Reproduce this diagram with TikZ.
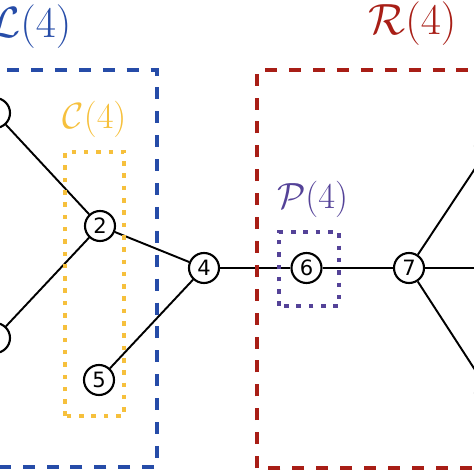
\documentclass[tikz,border=0pt]{standalone}
\usepackage{fontspec}
\newfontfamily\numfont{DejaVu Sans}
\usetikzlibrary{positioning}

\definecolor{lblue}{RGB}{38,76,168}
\definecolor{cgold}{RGB}{246,192,60}
\definecolor{rred}{RGB}{168,30,22}
\definecolor{ppurple}{RGB}{84,66,152}

\begin{document}
\begin{tikzpicture}[-,node distance=2.05cm,
                    semithick]
	  \tikzstyle{vertex}=[circle,draw=black,fill=white,line width=1.2pt,
	                      minimum size=0.6cm,inner sep=0pt,font=\numfont\fontsize{12}{14}\selectfont]
	  \tikzstyle{region}=[line width=2.8pt,dash pattern=on 6.8pt off 6.8pt]
	  \tikzstyle{subregion}=[line width=2.6pt,dash pattern=on 2.6pt off 4.4pt]
	  \tikzstyle{biglabel}=[inner sep=0pt,font=\fontsize{24}{28}\selectfont]
	  \tikzstyle{smalllabel}=[inner sep=0pt,font=\fontsize{20}{24}\selectfont]

	  \clip (-4.08,-4.12) rectangle (5.40,5.36);

	  \node[vertex]         (4)                      {4};
	  \node[vertex]         (6) [right of=4]         {6};
	  \node[vertex]         (7) [right of=6]         {7};
	  \node[vertex]         (2) at (-2.08,0.84)      {2};
	  \node[vertex]         (5) at (-2.10,-2.24)     {5};
	  \node[vertex]         (1) at (-4.18,3.10)      {1};
	  \node[vertex]         (3) at (-4.18,-1.40)     {3};
	  \node[vertex]         (8) at (5.72,2.44)       {};
	  \node[vertex]         (9) [right of=7]         {};
	  \node[vertex]        (10) at (5.72,-2.50)      {};

	  \path[line width=1.1pt] (2) edge (1) edge (3) edge (4)
	  (4) edge (5) edge (6)
	  (7) edge (6) edge (8) edge (9) edge (10);

	  % nested regions around the cut vertex
	  \draw[region,lblue]      (-4.60,-3.98) rectangle (-0.94,3.96);
	  \draw[subregion,cgold]   (-2.78,-2.96) rectangle (-1.60,2.32);
	  \draw[region,rred]       (1.06,-4.00) rectangle (6.00,3.96);
	  \draw[subregion,ppurple] (1.50,-0.76) rectangle (2.70,0.72);

	  \node[biglabel,text=lblue,anchor=east] (Llab) at (-2.64,4.83) {$\mathcal{L}(4)$};
	  \node[biglabel,text=rred,anchor=east]  (Rlab) at (5.06,4.88)  {$\mathcal{R}(4)$};
	  \node[smalllabel,text=cgold]           (Clab) at (-2.19,2.98) {$\mathcal{C}(4)$};
	  \node[smalllabel,text=ppurple]         (Plab) at (2.17,1.38)  {$\mathcal{P}(4)$};
	\end{tikzpicture}
\end{document}
